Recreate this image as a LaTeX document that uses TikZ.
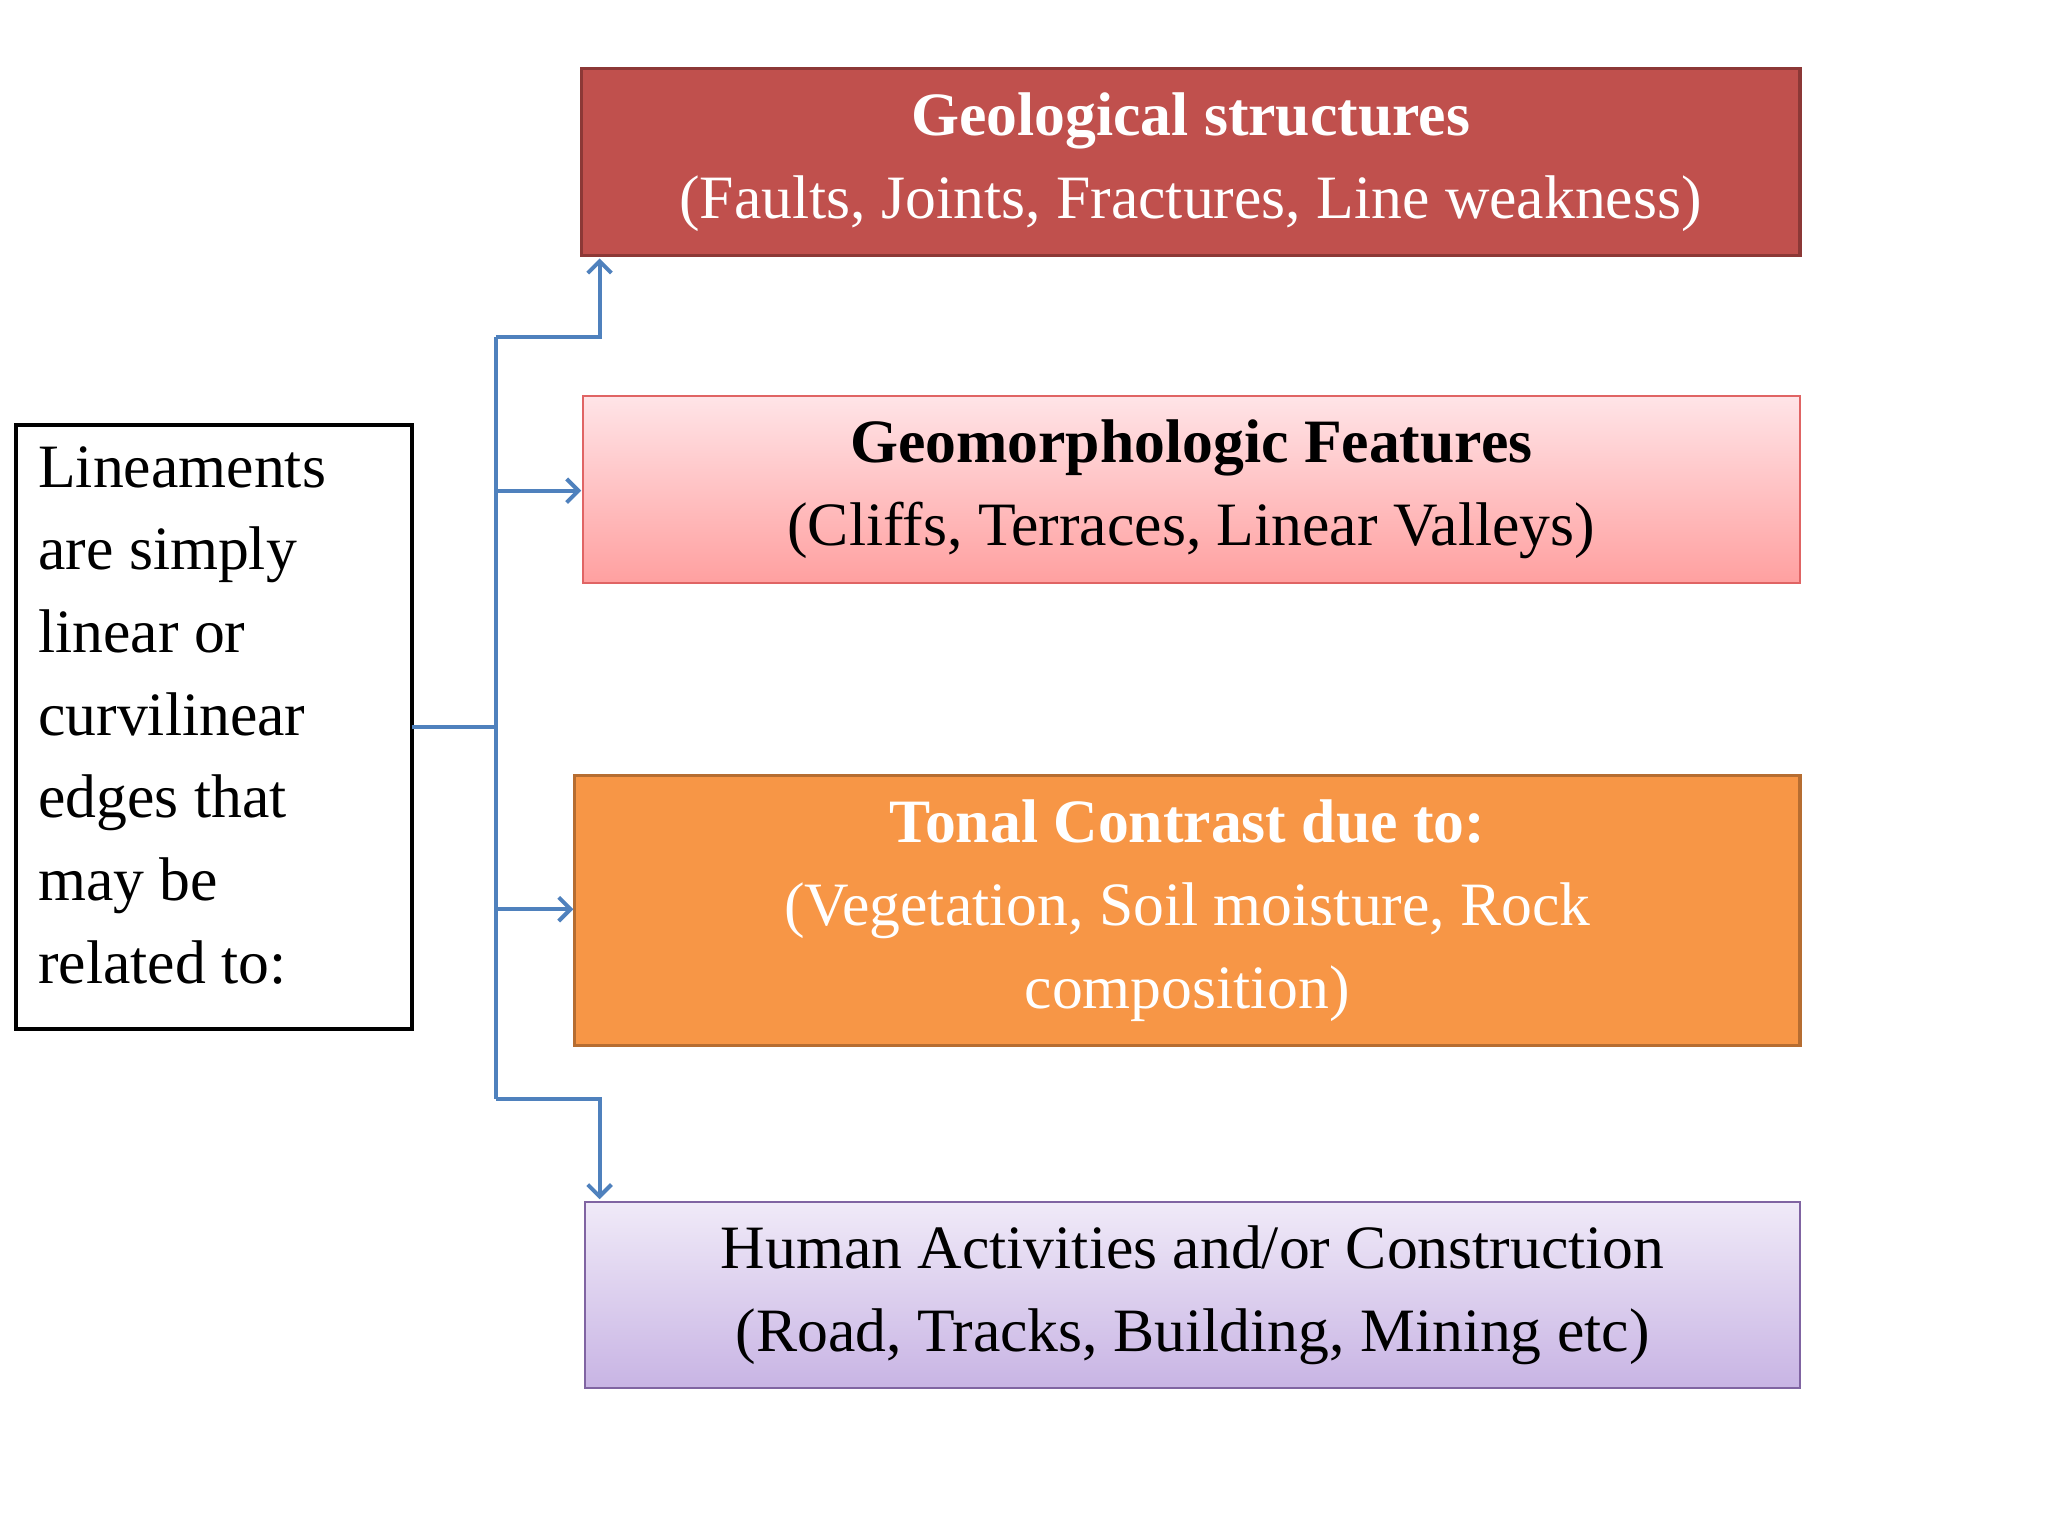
\documentclass[tikz,border=0pt]{standalone}
\usepackage{fontspec}
\setmainfont{Liberation Serif}
\usetikzlibrary{arrows.meta}
\definecolor{conn}{HTML}{4F81BD}
\begin{document}
\begin{tikzpicture}[x=1pt,y=-1pt,
  txt/.style={font=\fontsize{47}{63}\selectfont,align=center,inner sep=0pt},
  bx/.style={line width=2.5pt,minimum width=#1,anchor=north west,inner sep=0pt},
  cn/.style={conn,line width=3pt},
  ar/.style={cn,-{Straight Barb[length=9pt,width=18pt,line width=3pt]}}]
\useasboundingbox (0,0) rectangle (1561,1171);
\fill[white] (0,0) rectangle (1561,1171);
% boxes
\draw[line width=2.5pt,draw={rgb,255:red,140;green,56;blue,54},fill={rgb,255:red,192;green,80;blue,77}] (443,52) rectangle (1372,195);
\node[txt,white] (b1) at (907.5,123.5) {\textbf{Geological structures}\\(Faults, Joints, Fractures, Line weakness)};
\draw[line width=1.5pt,draw={rgb,255:red,224;green,100;blue,100},top color={rgb,255:red,255;green,228;blue,231},bottom color={rgb,255:red,255;green,160;blue,160}] (444,302) rectangle (1372,444);
\node[txt] (b2) at (908,373) {\textbf{Geomorphologic Features}\\(Cliffs, Terraces, Linear Valleys)};
\draw[line width=2.5pt,draw={rgb,255:red,182;green,109;blue,49},fill={rgb,255:red,247;green,150;blue,70}] (438,591) rectangle (1372,797);
\node[txt,white] (b3) at (905,694) {\textbf{Tonal Contrast due to:}\\(Vegetation, Soil moisture, Rock\\composition)};
\draw[line width=1.5pt,draw={rgb,255:red,128;green,100;blue,162},top color={rgb,255:red,240;green,234;blue,248},bottom color={rgb,255:red,200;green,180;blue,228}] (446,916) rectangle (1372,1058);
\node[txt] (b4) at (909,987) {Human Activities and/or Construction\\(Road, Tracks, Building, Mining etc)};
% left box
\draw[line width=3pt] (12,324) rectangle (314,784);
\node[txt,align=left,anchor=north west] (lb) at (29,340) {Lineaments\\are simply\\linear or\\curvilinear\\edges that\\may be\\related to:};
\coordinate (le) at (314,554);
\coordinate (j) at (378,554);
\coordinate (t1) at (457,197);
\coordinate (t2) at (443,374);
\coordinate (t3) at (437,693);
\coordinate (t4) at (457,914);
% connectors
\draw[cn] (le) -- (j);
\draw[cn] (378,257) -- (378,838);
\draw[ar] (378,257) -| (t1);
\draw[ar] (378,374) -- (t2);
\draw[ar] (378,693) -- (t3);
\draw[ar] (378,838) -| (t4);
\end{tikzpicture}
\end{document}
